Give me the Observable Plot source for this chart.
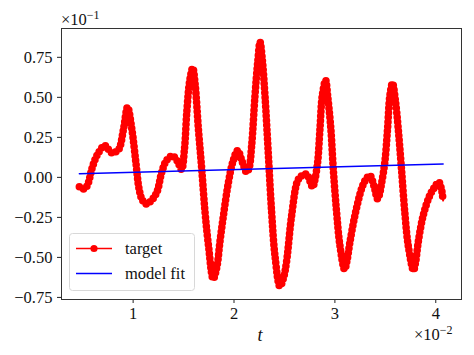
<!DOCTYPE html>
<html>
<head>
<meta charset="utf-8">
<script src="https://cdn.jsdelivr.net/npm/d3@7"></script>
<script src="https://cdn.jsdelivr.net/npm/@observablehq/plot@0.6"></script>
<style>
  html, body { margin: 0; padding: 0; background: #fff; }
  #chart { width: 474px; height: 355px; }
</style>
</head>
<body>
<div id="chart"></div>
<script>
// t in units of 1e-2, values in units of 1e-1 (as labelled on the axes)
const t = [
  0.467, 0.51, 0.53, 0.558, 0.591, 0.641, 0.717, 0.755, 0.789, 0.83,
  0.861, 0.905, 0.945, 0.987, 1.027, 1.059, 1.09, 1.13, 1.18, 1.235,
  1.284, 1.33, 1.39, 1.44, 1.48, 1.509, 1.532, 1.56, 1.591, 1.615,
  1.647, 1.68, 1.713, 1.747, 1.794, 1.83, 1.86, 1.895, 1.945, 1.99,
  2.037, 2.08, 2.126, 2.15, 2.175, 2.208, 2.235, 2.258, 2.28, 2.307,
  2.341, 2.373, 2.406, 2.455, 2.49, 2.52, 2.571, 2.63, 2.67, 2.72,
  2.75, 2.78, 2.80, 2.829, 2.852, 2.875, 2.908, 2.93, 2.96, 2.984,
  3.017, 3.05, 3.096, 3.12, 3.149, 3.198, 3.264, 3.30, 3.347, 3.39,
  3.422, 3.44, 3.462, 3.495, 3.522, 3.545, 3.571, 3.60, 3.628, 3.66,
  3.693, 3.727, 3.779, 3.80, 3.826, 3.875, 3.94, 3.99, 4.03, 4.055,
  4.073
];
const target = [
  -0.059, -0.072, -0.066, -0.030, 0.053, 0.136, 0.199, 0.175, 0.153, 0.160,
  0.178, 0.303, 0.439, 0.303, 0.095, -0.072, -0.140, -0.166, -0.145, -0.093,
  0.033, 0.105, 0.135, 0.100, 0.050, 0.178, 0.408, 0.600, 0.684, 0.580,
  0.303, 0.053, -0.218, -0.426, -0.634, -0.560, -0.405, -0.239, -0.030, 0.100,
  0.168, 0.100, 0.032, 0.060, 0.199, 0.511, 0.720, 0.845, 0.740, 0.511,
  0.136, -0.218, -0.489, -0.681, -0.630, -0.530, -0.239, -0.022, 0.010, 0.020,
  -0.020, -0.061, -0.020, 0.095, 0.303, 0.511, 0.606, 0.500, 0.303, 0.053,
  -0.218, -0.426, -0.575, -0.520, -0.405, -0.239, -0.072, -0.020, 0.011, -0.060,
  -0.134, -0.110, -0.040, 0.095, 0.303, 0.511, 0.588, 0.480, 0.303, 0.053,
  -0.218, -0.426, -0.581, -0.530, -0.405, -0.239, -0.114, -0.060, -0.030, -0.070,
  -0.145
];
const fitT = [0.467, 4.073];
const fitY = [0.022, 0.084];
const xTicks = [1, 2, 3, 4];
const yTicks = [-0.75, -0.5, -0.25, 0, 0.25, 0.5, 0.75];
const seriesNames = ["target", "model fit"];

const targetData = t.map((d, i) => ({t: d, y: target[i]}));
const fitData = fitT.map((d, i) => ({t: d, y: fitY[i]}));

const FONT = "'Liberation Serif', 'DejaVu Serif', serif";

const svg = Plot.plot({
  width: 474,
  height: 355,
  marginLeft: 61,
  marginRight: 13,
  marginTop: 28,
  marginBottom: 56,
  style: {fontFamily: FONT, fontSize: "16.5px", color: "#111", background: "#fff", overflow: "visible"},
  x: {domain: [0.29, 4.255], ticks: xTicks, tickFormat: d3.format("d"), tickSize: 4, tickPadding: 4, label: null},
  y: {domain: [-0.763, 0.93], ticks: yTicks, tickFormat: d3.format(".2f"), tickSize: 4, tickPadding: 5, label: null},
  marks: [
    Plot.line(targetData, {x: "t", y: "y", stroke: "#ff0000", strokeWidth: 2, curve: "catmull-rom"}),
    Plot.line(targetData, {x: "t", y: "y", stroke: "#ff0000", strokeWidth: 7.6, strokeDasharray: "0 4.6", strokeLinecap: "round", curve: "catmull-rom"}),
    Plot.line(fitData, {x: "t", y: "y", stroke: "#0000ff", strokeWidth: 1.5}),
    Plot.frame({stroke: "#333", strokeWidth: 1})
  ]
});

const s = d3.select(svg);
s.selectAll("[aria-label='y-axis tick'] path, [aria-label='x-axis tick'] path").attr("stroke", "#222");

// offset labels
const off1 = s.append("text").attr("x", 61).attr("y", 25).attr("text-anchor", "start").attr("font-family", FONT).attr("font-size", 16.5).attr("fill", "#111");
off1.append("tspan").text("×10");
off1.append("tspan").attr("font-size", 12).attr("dy", -6).text("−1");
const off2 = s.append("text").attr("x", 414).attr("y", 340).attr("text-anchor", "start").attr("font-family", FONT).attr("font-size", 16.5).attr("fill", "#111");
off2.append("tspan").text("×10");
off2.append("tspan").attr("font-size", 12).attr("dy", -6).text("−2");

// axis label
s.append("text").attr("x", 260).attr("y", 341).attr("text-anchor", "middle")
  .attr("font-family", FONT).attr("font-size", 18).attr("font-style", "italic").attr("fill", "#111").text("t");

// legend
const lg = s.append("g").attr("text-anchor", "start");
lg.append("rect").attr("x", 69.5).attr("y", 233.5).attr("width", 125).attr("height", 57).attr("rx", 3)
  .attr("fill", "#fff").attr("fill-opacity", 0.8).attr("stroke", "#d8d8d8").attr("stroke-width", 1);
lg.append("line").attr("x1", 76).attr("x2", 112).attr("y1", 248.5).attr("y2", 248.5).attr("stroke", "#ff0000").attr("stroke-width", 1.5);
lg.append("circle").attr("cx", 94).attr("cy", 248.5).attr("r", 3.6).attr("fill", "#ff0000");
lg.append("line").attr("x1", 76).attr("x2", 112).attr("y1", 273.5).attr("y2", 273.5).attr("stroke", "#0000ff").attr("stroke-width", 1.5);
lg.append("text").attr("x", 125).attr("y", 253.5).attr("font-family", FONT).attr("font-size", 16.5).attr("fill", "#111").text(seriesNames[0]);
lg.append("text").attr("x", 125).attr("y", 278.5).attr("font-family", FONT).attr("font-size", 16.5).attr("fill", "#111").text(seriesNames[1]);

document.getElementById("chart").appendChild(svg);
</script>
</body>
</html>
